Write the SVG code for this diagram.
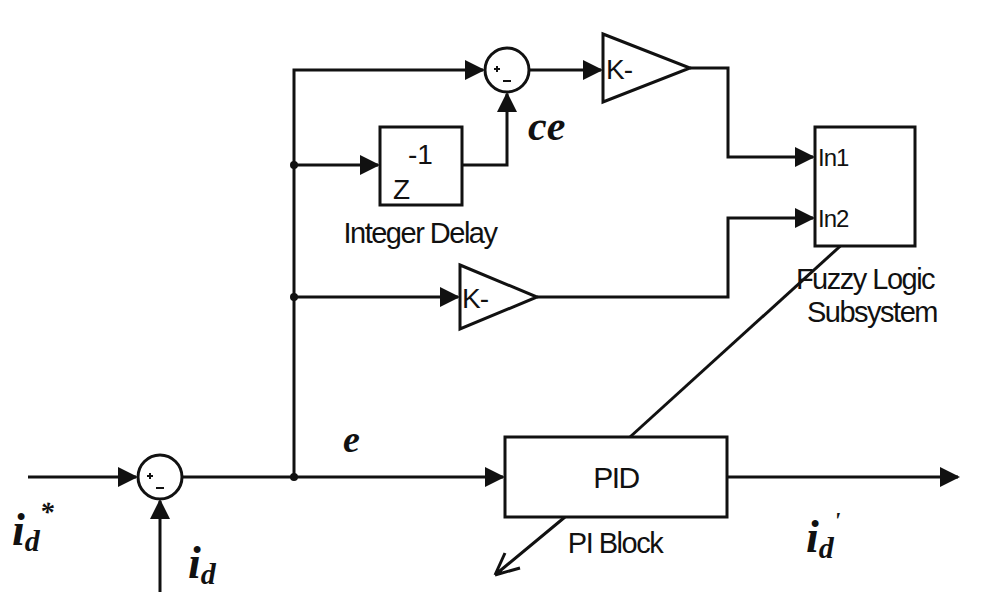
<svg xmlns="http://www.w3.org/2000/svg" width="982" height="592" viewBox="0 0 982 592">
<style>
.l{fill:none;stroke:#111;stroke-width:3}
.b{fill:#fff;stroke:#111;stroke-width:3}
.t{font-family:"Liberation Sans",Arial,sans-serif;fill:#111}
.m{font-family:"Liberation Serif","Times New Roman",serif;font-style:italic;font-weight:bold;fill:#111}
</style>
<rect width="982" height="592" fill="#fff"/>
<g id="connectors">
<path class="l" d="M28,477H136"/>
<path class="l" d="M160,592V501"/>
<path class="l" d="M182,477H503"/>
<path class="l" d="M294,477V70H483"/>
<path class="l" d="M294,165H378"/>
<path class="l" d="M294,297H458"/>
<path class="l" d="M462,165H507V94"/>
<path class="l" d="M529,70H601"/>
<path class="l" d="M690,68H728V157H813"/>
<path class="l" d="M537,297H728V218H813"/>
<path class="l" d="M630,437L858,230"/>
<path class="l" d="M727,477H958"/>
<path class="l" d="M565,517L495,575M495,575L520,568M495,575L505,553"/>
</g>
<g fill="#111">
<path d="M138,477l-20,-10v20z"/>
<path d="M160,499l-10,20h20z"/>
<path d="M485,70l-20,-10v20z"/>
<path d="M507,92l-10,20h20z"/>
<path d="M380,165l-20,-10v20z"/>
<path d="M603,70l-20,-10v20z"/>
<path d="M460,297l-20,-10v20z"/>
<path d="M815,157l-20,-10v20z"/>
<path d="M815,218l-20,-10v20z"/>
<path d="M505,477l-20,-10v20z"/>
<path d="M960,477l-20,-10v20z"/>
<circle cx="294" cy="477" r="4"/><circle cx="294" cy="165" r="4"/><circle cx="294" cy="297" r="4"/>
</g>
<g id="sum1"><circle class="b" cx="160" cy="477" r="22" stroke-width="2.5"/><path d="M147,476h6M150,473v6M156,488h8" stroke="#111" stroke-width="2" fill="none"/></g>
<g id="sum2"><circle class="b" cx="507" cy="70" r="22" stroke-width="2.5"/><path d="M494,69h6M497,66v6M503,81h8" stroke="#111" stroke-width="2" fill="none"/></g>
<g id="gain1"><path class="b" d="M603,34L690,68L603,102z" stroke-width="2.5"/><text class="t" x="606" y="79" font-size="28" letter-spacing="-1">K-</text></g>
<g id="gain2"><path class="b" d="M460,265L537,297L460,329z" stroke-width="2.5"/><text class="t" x="462" y="308" font-size="28" letter-spacing="-1">K-</text></g>
<g id="delay"><rect class="b" x="380" y="127" width="82" height="78"/><text class="t" x="408" y="164" font-size="28">-1</text><text class="t" x="393" y="199" font-size="28">Z</text><text class="t" x="420" y="243" font-size="29" text-anchor="middle" letter-spacing="-1.5">Integer Delay</text></g>
<g id="fuzzy"><rect class="b" x="815" y="127" width="100" height="119"/><text class="t" x="818" y="166" font-size="24" letter-spacing="-1">In1</text><text class="t" x="818" y="227" font-size="24" letter-spacing="-1">In2</text><text class="t" x="865" y="289" font-size="29" text-anchor="middle" letter-spacing="-1.5">Fuzzy Logic</text><text class="t" x="872" y="322" font-size="29" text-anchor="middle" letter-spacing="-1.5">Subsystem</text></g>
<g id="pid"><rect class="b" x="505" y="437" width="222" height="80"/><text class="t" x="616" y="488" font-size="30" text-anchor="middle" letter-spacing="-1.5">PID</text><text class="t" x="615" y="553" font-size="29" text-anchor="middle" letter-spacing="-1.5">PI Block</text></g>
<g id="labels">
<text class="m" x="528" y="140" font-size="42" font-weight="normal">ce</text>
<text class="m" x="343" y="452" font-size="38" font-weight="normal">e</text>
<text class="m" x="12" y="545" font-size="46">i<tspan font-size="30" dy="6">d</tspan><tspan font-size="28" dy="-30">*</tspan></text>
<text class="m" x="188" y="578" font-size="46">i<tspan font-size="30" dy="6">d</tspan></text>
<text class="m" x="806" y="552" font-size="46">i<tspan font-size="30" dy="6">d</tspan><tspan font-size="24" dy="-30">'</tspan></text>
</g>
</svg>
